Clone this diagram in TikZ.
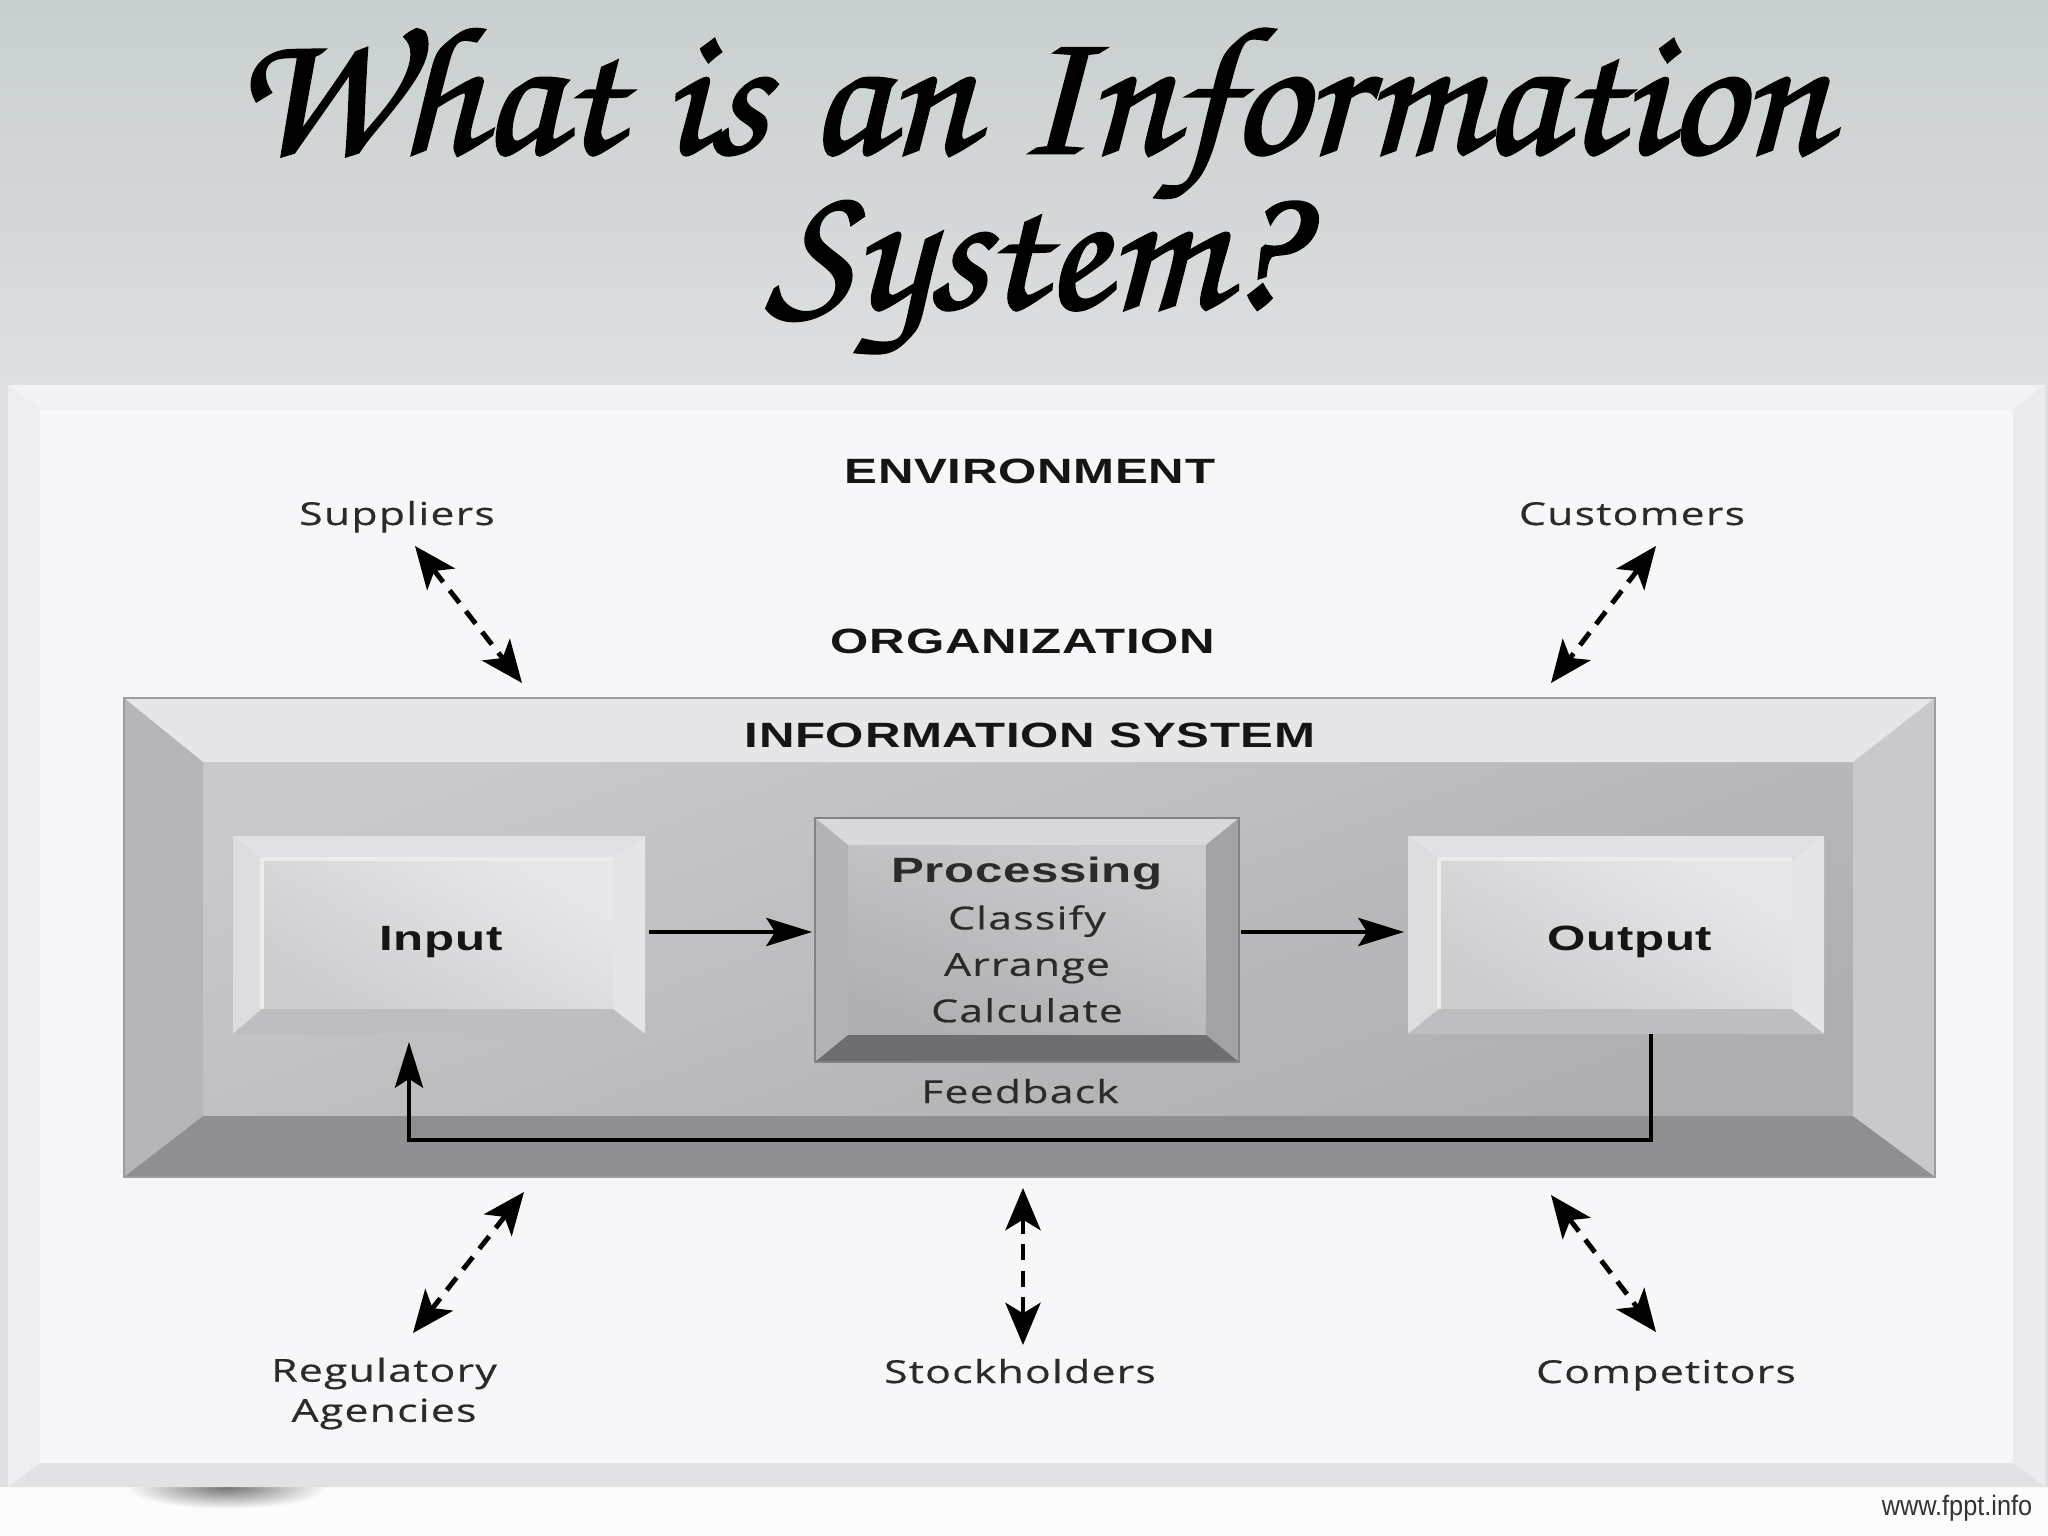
\documentclass[tikz,border=0pt]{standalone}
\usepackage{fontspec}
\usetikzlibrary{arrows.meta}
\newfontfamily\titlefont{texgyrechorus-mediumitalic.otf}[FakeStretch=1.03,FakeBold=1.5]
\newfontfamily\lblfont{Open Sans}[FakeStretch=1.35,LetterSpace=4,FakeBold=0.5]
\newfontfamily\hdfont{Liberation Sans}[FakeStretch=1.4,LetterSpace=2]
\newfontfamily\webfont{Liberation Sans}[FakeStretch=0.9]

\definecolor{paper}{HTML}{FCFCFD}
\definecolor{skytop}{HTML}{C9CFCF}
\definecolor{skybot}{HTML}{DEDFE1}
\definecolor{frmtop}{HTML}{F2F2F4}
\definecolor{frmleft}{HTML}{EEEEF1}
\definecolor{frmright}{HTML}{EBEAED}
\definecolor{frmbot}{HTML}{E2E1E4}
\definecolor{frmin}{HTML}{F7F6F9}
\definecolor{istop}{HTML}{E6E5E8}
\definecolor{isleft}{HTML}{B6B5B8}
\definecolor{isright}{HTML}{C9C8CB}
\definecolor{isbot}{HTML}{8F8E91}
\definecolor{isfloorA}{HTML}{C9C8CB}
\definecolor{isfloorB}{HTML}{AEADB0}
\definecolor{isline}{HTML}{9C9B9E}
\definecolor{iotop}{HTML}{E1E0E3}
\definecolor{ioleft}{HTML}{DDDCDF}
\definecolor{ioright}{HTML}{E5E4E7}
\definecolor{iobot}{HTML}{BEBDC0}
\definecolor{iofaceA}{HTML}{E8E7EA}
\definecolor{iofaceB}{HTML}{CDCCCF}
\definecolor{prtop}{HTML}{D9D8DB}
\definecolor{prleft}{HTML}{B3B2B5}
\definecolor{prright}{HTML}{A3A2A5}
\definecolor{prbot}{HTML}{6E6D70}
\definecolor{prfaceA}{HTML}{CCCBCE}
\definecolor{prfaceB}{HTML}{AFAEB1}
\definecolor{prline}{HTML}{838285}
\definecolor{txtdark}{HTML}{151515}
\definecolor{txtgray}{HTML}{2B2B2B}

% bevel: outer node, inner node, top, left, right, bottom colours
\newcommand{\bevel}[6]{%
  \fill[#3] (#1.north west) -- (#1.north east) -- (#2.north east) -- (#2.north west) -- cycle;
  \fill[#4] (#1.north west) -- (#2.north west) -- (#2.south west) -- (#1.south west) -- cycle;
  \fill[#5] (#1.north east) -- (#2.north east) -- (#2.south east) -- (#1.south east) -- cycle;
  \fill[#6] (#1.south west) -- (#2.south west) -- (#2.south east) -- (#1.south east) -- cycle;}

\begin{document}
\begin{tikzpicture}
    [plate/.style={inner sep=0pt, outer sep=0pt},
    lbl/.style={font=\lblfont\fontsize{9}{11.4}\selectfont, text=txtgray, inner sep=0pt},
    hd/.style={font=\hdfont\bfseries\fontsize{10}{12}\selectfont, text=txtdark, inner sep=0pt},
    flow/.style={line width=1.15pt, -{Stealth[length=13pt,width=8pt,inset=2.5pt]}},
    twoway/.style={line width=1.4pt, dash pattern=on 4.5pt off 3pt,
        {Stealth[length=12pt,width=10pt,inset=3pt]}-{Stealth[length=12pt,width=10pt,inset=3pt]}}]
        \useasboundingbox (0,0) rectangle (20.48,-15.36);

        %% slide background
        \fill[paper] (0,0) rectangle (20.48,-15.36);
        \shade[top color=skytop, bottom color=skybot] (0,0) rectangle (20.48,-3.90);
        \fill[skybot] (0,-3.90) rectangle (20.48,-14.87);
        \begin{scope}
            \clip (1.0,-14.87) rectangle (3.6,-15.15);
            \shade[inner color=black!55, outer color=paper] (2.27,-14.87) ellipse (1.0 and 0.22);
        \end{scope}

        %% title
        \node[anchor=base, font=\titlefont\fontsize{52}{60}\selectfont] (title1) at (10.30,-1.53) {What is an Information};
        \node[anchor=base, font=\titlefont\fontsize{52}{60}\selectfont] (title2) at (10.31,-3.08) {System?};

        %% picture frame
        \node[plate, minimum width=20.37cm, minimum height=11.02cm] (frame) at (10.265,-9.36) {};
        \node[plate, fill=frmin, minimum width=19.73cm, minimum height=10.53cm] (framein) at (10.265,-9.365) {};
        \bevel{frame}{framein}{frmtop}{frmleft}{frmright}{frmbot}

        %% environment
        \node[hd, anchor=base] (env) at (10.30,-4.84) {ENVIRONMENT};
        \node[hd, anchor=base] (org) at (10.23,-6.54) {ORGANIZATION};
        \node[lbl, anchor=base] (sup) at (3.97,-5.25) {Suppliers};
        \node[lbl, anchor=base] (cus) at (16.32,-5.25) {Customers};
        \node[lbl, align=center] (reg) at (3.84,-13.935) {Regulatory\\Agencies};
        \node[lbl, anchor=base] (stk) at (10.20,-13.83) {Stockholders};
        \node[lbl, anchor=base] (cmp) at (16.66,-13.83) {Competitors};

        %% information system
        \node[plate, minimum width=18.11cm, minimum height=4.79cm] (is) at (10.295,-9.375) {};
        \node[plate, top color=isfloorA, bottom color=isfloorB, shading angle=20,
            minimum width=16.50cm, minimum height=3.54cm] (isin) at (10.28,-9.39) {};
        \bevel{is}{isin}{istop}{isleft}{isright}{isbot}
        \draw[isline, line width=0.6pt] (is.north west) rectangle (is.south east);
        \node[hd, anchor=base] (islbl) at (10.30,-7.47) {INFORMATION SYSTEM};

        %% input
        \node[plate, minimum width=4.12cm, minimum height=1.98cm] (inp) at (4.39,-9.35) {};
        \node[plate, top color=iofaceA, bottom color=iofaceB, shading angle=-30,
            minimum width=3.51cm, minimum height=1.50cm] (inpf) at (4.375,-9.34) {};
        \bevel{inp}{inpf}{iotop}{ioleft}{ioright}{iobot}
        \draw[white!85!gray, line width=1pt] (inpf.south west) -- (inpf.north west) -- (inpf.north east);
        \node[hd, anchor=base] (inplbl) at (4.41,-9.50) {Input};

        %% processing
        \node[plate, minimum width=4.24cm, minimum height=2.44cm] (proc) at (10.27,-9.40) {};
        \node[plate, lbl, align=center, top color=prfaceA, bottom color=prfaceB, shading angle=-20,
            font=\lblfont\fontsize{9}{13.2}\selectfont,
            minimum width=3.58cm, minimum height=1.90cm] (procf) at (10.27,-9.40)
            {{\hdfont\bfseries\fontsize{10}{13.2}\selectfont Processing}\\Classify\\Arrange\\Calculate};
        \bevel{proc}{procf}{prtop}{prleft}{prright}{prbot}
        \draw[prline, line width=0.6pt] (proc.north west) rectangle (proc.south east);

        %% output
        \node[plate, minimum width=4.16cm, minimum height=1.98cm] (outp) at (16.16,-9.35) {};
        \node[plate, top color=iofaceA, bottom color=iofaceB, shading angle=-30,
            minimum width=3.53cm, minimum height=1.50cm] (outpf) at (16.155,-9.34) {};
        \bevel{outp}{outpf}{iotop}{ioleft}{ioright}{iobot}
        \draw[white!85!gray, line width=1pt] (outpf.south west) -- (outpf.north west) -- (outpf.north east);
        \node[hd, anchor=base] (outlbl) at (16.30,-9.50) {Output};

        %% flow
        \coordinate (flowy) at (0,-9.32);
        \draw[flow, shorten <=0.04cm, shorten >=0.03cm] (inp.east |- flowy) -- (proc.west |- flowy);
        \draw[flow, shorten <=0.02cm, shorten >=0.04cm] (proc.east |- flowy) -- (outp.west |- flowy);
        \coordinate (fbR) at (16.51,-11.40);
        \coordinate (fbL) at (4.09,-11.40);
        \draw[flow, shorten >=0.08cm] (outp.south -| fbR) -- (fbR) -- (fbL) -- (inp.south -| fbL);
        \node[lbl, anchor=base] (fb) at (10.20,-11.03) {Feedback};

        %% exchanges with the environment
        \coordinate (supA) at (4.15,-5.46);
        \coordinate (supB) at (5.22,-6.83);
        \coordinate (cusA) at (16.56,-5.46);
        \coordinate (cusB) at (15.51,-6.83);
        \coordinate (regA) at (5.24,-11.92);
        \coordinate (regB) at (4.13,-13.33);
        \coordinate (stkA) at (10.23,-11.88);
        \coordinate (stkB) at (10.23,-13.45);
        \coordinate (cmpA) at (15.51,-11.95);
        \coordinate (cmpB) at (16.56,-13.32);
        \draw[twoway] (supA) -- (supB);
        \draw[twoway] (cusA) -- (cusB);
        \draw[twoway] (regA) -- (regB);
        \draw[twoway] (stkA) -- (stkB);
        \draw[twoway] (cmpA) -- (cmpB);

        \node[font=\webfont\fontsize{8}{9}\selectfont, text=black!80, inner sep=0pt] (web) at (19.57,-15.08) {www.fppt.info};
    \end{tikzpicture}
\end{document}
